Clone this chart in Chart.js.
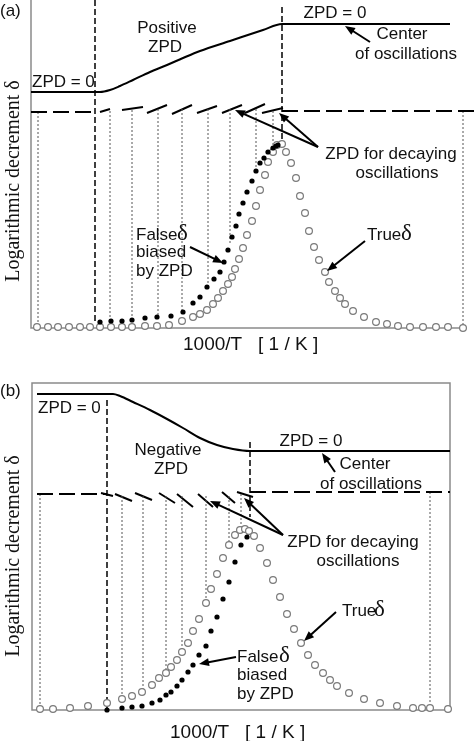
<!DOCTYPE html>
<html><head><meta charset="utf-8">
<script src="https://cdn.jsdelivr.net/npm/chart.js"></script>
<style>
html,body{margin:0;padding:0;background:#fff;}
#wrap{position:relative;width:474px;height:741px;overflow:hidden;background:#fff;}
canvas{position:absolute;left:0;}
</style></head><body>
<div id="wrap">
<canvas id="ca" width="474" height="370" style="top:0;width:474px;height:370px"></canvas>
<canvas id="cb" width="474" height="371" style="top:370px;width:474px;height:371px"></canvas>
</div>
<script>
// ===== Panel (a): positive ZPD =====  x = 1000/T (arb. units), y = logarithmic decrement (arb. units)
const trueXA = [0.6,1.7,2.7,3.8,4.9,5.9,6.9,8.0,9.1,10.1,11.4,12.6,13.8,15.1,16.2,16.9,17.6,18.2,18.7,19.2,19.7,20.1,20.4,20.8,21.2,21.6,22.1,22.5,22.9,23.4,23.7,24.2,24.6,25.1,25.5,26.0,26.5,26.9,27.4,27.8,28.3,28.8,29.4,29.8,30.4,30.9,31.4,32.2,33.3,34.5,35.6,36.7,37.9,39.2,40.5,41.7,43.2];
const trueDA  = [0.01,0.01,0.01,0.01,0.01,0.01,0.01,0.01,0.01,0.01,0.02,0.02,0.03,0.07,0.11,0.14,0.18,0.24,0.30,0.37,0.44,0.51,0.59,0.69,0.80,0.93,1.07,1.22,1.38,1.53,1.66,1.76,1.83,1.84,1.76,1.65,1.50,1.32,1.15,0.97,0.81,0.68,0.56,0.46,0.37,0.30,0.24,0.17,0.11,0.06,0.04,0.02,0.01,0.01,0.01,0.01,0.0];
const falseXA = [6.9,8.0,9.1,10.1,11.4,12.6,14.0,15.2,16.2,16.9,17.6,18.3,18.9,19.3,19.7,20.1,20.5,20.8,21.2,21.6,22.1,22.5,22.9,23.3,23.7,24.2,24.5,24.7];
const falseDA = [0.06,0.07,0.07,0.08,0.10,0.11,0.12,0.16,0.25,0.31,0.41,0.49,0.56,0.66,0.78,0.91,1.02,1.14,1.25,1.36,1.47,1.57,1.65,1.70,1.76,1.80,1.82,1.83];
const zpdXA = [0,6.9,7.9,8.9,10.2,11.9,13.6,15.2,16.9,19.9,23.2,25.1,41.9];
const zpdDA = [2.36,2.36,2.38,2.42,2.48,2.56,2.63,2.70,2.77,2.87,2.98,3.04,3.04];
const levX0A = [0,25.1], levX1A = [6.4,44.3], levDA = [2.16,2.17];
const bndXA = [6.4,25.1], bndTopA = [3.28,3.21], bndBotA = [0.05,1.88];
const measXA = [0.7,7.9,10.1,12.7,15.1,17.7,19.9,22.5,24.2,43.2];
const measTopA = [2.16,2.17,2.18,2.19,2.19,2.19,2.19,2.19,2.17,2.17];
const measBotA = [0.02,0.07,0.08,0.11,0.16,0.41,0.84,1.57,1.80,0.0];
const tickX0A = [6.9,9.1,11.6,14.1,16.6,19.1,21.4,23.1];
const tickX1A = [7.9,11.2,13.6,16.1,18.6,21.1,23.4,25.2];
const tickD0A = [2.16,2.18,2.15,2.14,2.15,2.15,2.15,2.15];
const tickD1A = [2.19,2.21,2.23,2.23,2.22,2.23,2.24,2.20];

// ===== Panel (b): negative ZPD =====
const trueXB = [0.8,2.1,3.8,5.6,7.5,9.0,10.0,11.0,12.0,12.7,13.4,13.9,14.5,15.0,15.6,16.1,16.7,17.4,17.9,18.5,19.1,19.7,20.3,20.8,21.3,21.7,22.2,22.8,23.5,24.1,24.8,25.5,26.2,26.9,27.6,28.3,29.1,29.8,30.5,31.7,33.2,34.8,36.5,38.1,39.0,39.8,41.6];
const trueDB  = [0.01,0.01,0.02,0.04,0.07,0.11,0.14,0.18,0.25,0.32,0.37,0.43,0.50,0.58,0.67,0.79,0.91,1.07,1.21,1.36,1.52,1.65,1.75,1.80,1.81,1.79,1.74,1.62,1.47,1.30,1.13,0.96,0.81,0.67,0.55,0.45,0.37,0.30,0.24,0.17,0.11,0.07,0.04,0.02,0.02,0.02,0.01];
const falseXB = [7.5,9.0,10.0,11.0,12.0,12.8,13.4,13.9,14.5,15.0,15.6,16.1,16.7,17.4,17.9,18.5,19.1,19.7,20.3,20.9,21.5];
const falseDB = [0.0,0.02,0.03,0.04,0.07,0.10,0.15,0.18,0.24,0.30,0.38,0.45,0.55,0.64,0.79,0.93,1.11,1.28,1.48,1.65,1.73];
const zpdXB = [0.5,8.1,8.8,10.1,11.8,13.5,15.1,16.8,18.5,20.1,21.8,41.8];
const zpdDB = [3.16,3.16,3.14,3.08,3.00,2.91,2.82,2.72,2.65,2.61,2.59,2.59];
const levX0B = [0.5,21.8], levX1B = [7.5,41.8], levDB = [2.16,2.18];
const bndXB = [7.5,21.8], bndTopB = [3.10,2.68], bndBotB = [0.02,1.93];
const measXB = [0.8,9.0,11.1,13.4,15.0,17.4,19.7,20.9,39.8];
const measTopB = [2.16,2.14,2.14,2.14,2.14,2.14,2.14,2.16,2.18];
const measBotB = [0.01,0.11,0.18,0.37,0.58,1.07,1.65,1.80,0.02];
const tickX0B = [6.9,8.3,10.3,12.7,14.5,16.6,19.0,20.5];
const tickX1B = [8.1,10.0,12.0,14.3,16.1,18.1,20.3,22.1];
const tickD0B = [2.17,2.16,2.17,2.17,2.16,2.16,2.18,2.18];
const tickD1B = [2.14,2.09,2.10,2.07,2.03,2.03,2.07,2.13];

// ===== helpers =====
const pts = (xs, ys) => xs.map((x, i) => ({x, y: ys[i]}));
function segs(x0, y0, x1, y1) {
  const d = [];
  for (let i = 0; i < x0.length; i++) {
    d.push({x: x0[i], y: y0[i]}, {x: x1[i], y: y1[i]}, {x: x1[i], y: null});
  }
  return d;
}
const SANS = '17px "Liberation Sans", Arial, sans-serif';
const AXF = '19px "Liberation Sans", Arial, sans-serif';
const SERIF = '20px "Liberation Serif", "Times New Roman", serif';
const DELTA = '23px "Liberation Serif", "Times New Roman", serif';

function arrow(ctx, x0, y0, x1, y1) {
  const a = Math.atan2(y1 - y0, x1 - x0), L = 10, W = 4;
  ctx.beginPath();
  ctx.moveTo(x0, y0);
  ctx.lineTo(x1 - Math.cos(a) * L * 0.7, y1 - Math.sin(a) * L * 0.7);
  ctx.lineWidth = 2; ctx.strokeStyle = '#000'; ctx.stroke();
  ctx.beginPath();
  ctx.moveTo(x1, y1);
  ctx.lineTo(x1 - L * Math.cos(a) + W * Math.sin(a), y1 - L * Math.sin(a) - W * Math.cos(a));
  ctx.lineTo(x1 - L * Math.cos(a) - W * Math.sin(a), y1 - L * Math.sin(a) + W * Math.cos(a));
  ctx.closePath(); ctx.fillStyle = '#000'; ctx.fill();
}

const annotPlugin = {
  id: 'annot',
  beforeDatasetsDraw(chart, args, o) {
    const ctx = chart.ctx, ca = chart.chartArea;
    ctx.save();
    ctx.strokeStyle = '#8a8a8a'; ctx.lineWidth = 1.5;
    ctx.beginPath();
    if (o.frame === 'box') {
      ctx.rect(ca.left, ca.top, ca.right - ca.left, ca.bottom - ca.top);
    } else {
      ctx.moveTo(ca.left, ca.top); ctx.lineTo(ca.left, ca.bottom); ctx.lineTo(ca.right, ca.bottom);
    }
    ctx.stroke();
    ctx.restore();
  },
  afterDatasetsDraw(chart, args, o) {
    const ctx = chart.ctx, xs = chart.scales.x, ys = chart.scales.y;
    ctx.save();
    (o.arrows || []).forEach(a => arrow(ctx, xs.getPixelForValue(a[0]), ys.getPixelForValue(a[1]),
                                          xs.getPixelForValue(a[2]), ys.getPixelForValue(a[3])));
    (o.texts || []).forEach(t => {
      ctx.save();
      ctx.font = t.f || SANS; ctx.fillStyle = '#111';
      ctx.textAlign = t.a || 'left'; ctx.textBaseline = 'alphabetic';
      if (t.r) { ctx.translate(t.x, t.y); ctx.rotate(t.r); ctx.fillText(t.s, 0, 0); }
      else ctx.fillText(t.s, t.x, t.y);
      ctx.restore();
    });
    ctx.restore();
  }
};

function makeChart(id, P, pad, xmax, ymax, ann) {
  const line = (data, extra) => Object.assign({data, showLine: true, pointRadius: 0, borderColor: '#000',
    borderWidth: 2, fill: false, clip: false, tension: 0}, extra);
  return new Chart(document.getElementById(id), {
    type: 'scatter',
    data: {datasets: [
      {data: pts(P.falseX, P.falseD), showLine: false, pointRadius: 2.6, pointBackgroundColor: '#000',
       pointBorderColor: '#000', pointBorderWidth: 0, clip: false},
      {data: pts(P.trueX, P.trueD), showLine: false, pointRadius: 3.4, pointBackgroundColor: '#fff',
       pointBorderColor: '#7a7a7a', pointBorderWidth: 1.2, clip: false},
      line(pts(P.zpdX, P.zpdD), {cubicInterpolationMode: 'monotone'}),
      line(segs(P.levX0, P.levD, P.levX1, P.levD), {borderDash: [16, 6]}),
      line(segs(P.bndX, P.bndTop, P.bndX, P.bndBot), {borderDash: [6, 3], borderWidth: 1.5}),
      line(segs(P.measX, P.measTop, P.measX, P.measBot), {borderDash: [2, 2], borderWidth: 1, borderColor: '#555'}),
      line(segs(P.tickX0, P.tickD0, P.tickX1, P.tickD1), {borderWidth: 2})
    ]},
    options: {
      responsive: false, animation: false, events: [],
      layout: {padding: pad, autoPadding: false},
      scales: {
        x: {type: 'linear', min: 0, max: xmax, display: false},
        y: {type: 'linear', min: 0, max: ymax, display: false}
      },
      plugins: {legend: {display: false}, tooltip: {enabled: false}, annot: ann}
    },
    plugins: [annotPlugin]
  });
}

makeChart('ca', {
  trueX: trueXA, trueD: trueDA, falseX: falseXA, falseD: falseDA, zpdX: zpdXA, zpdD: zpdDA,
  levX0: levX0A, levX1: levX1A, levD: levDA, bndX: bndXA, bndTop: bndTopA, bndBot: bndBotA,
  measX: measXA, measTop: measTopA, measBot: measBotA,
  tickX0: tickX0A, tickX1: tickX1A, tickD0: tickD0A, tickD1: tickD1A
}, {left: 31, right: 8, top: 0, bottom: 42}, 43.5, 3.28, {
  frame: 'axes',
  arrows: [[33.9, 2.86, 31.4, 3.02], [28.7, 1.81, 20.4, 2.18], [28.7, 1.81, 24.8, 2.15],
           [15.9, 0.81, 19.2, 0.65], [33.4, 0.87, 29.6, 0.57]],
  texts: [
    {s: '(a)', x: 0, y: 16},
    {s: 'ZPD = 0', x: 32, y: 87},
    {s: 'Positive', x: 167, y: 33, a: 'center'},
    {s: 'ZPD', x: 165, y: 52, a: 'center'},
    {s: 'ZPD = 0', x: 335, y: 18, a: 'center'},
    {s: 'Center', x: 402, y: 39, a: 'center'},
    {s: 'of oscillations', x: 406, y: 59, a: 'center'},
    {s: 'ZPD for decaying', x: 391, y: 159, a: 'center'},
    {s: 'oscillations', x: 397, y: 178, a: 'center'},
    {s: 'False', x: 136, y: 240}, {s: 'δ', x: 177, y: 240, f: DELTA},
    {s: 'biased', x: 136, y: 257},
    {s: 'by ZPD', x: 136, y: 276},
    {s: 'True', x: 367, y: 240}, {s: 'δ', x: 401, y: 240, f: DELTA},
    {s: '1000/T', x: 183, y: 350, f: AXF},
    {s: '[ 1 / K ]', x: 258, y: 350, f: AXF},
    {s: 'Logarithmic decrement δ', x: 19, y: 181, a: 'center', f: SERIF, r: -Math.PI / 2}
  ]
});

makeChart('cb', {
  trueX: trueXB, trueD: trueDB, falseX: falseXB, falseD: falseDB, zpdX: zpdXB, zpdD: zpdDB,
  levX0: levX0B, levX1: levX1B, levD: levDB, bndX: bndXB, bndTop: bndTopB, bndBot: bndBotB,
  measX: measXB, measTop: measTopB, measBot: measBotB,
  tickX0: tickX0B, tickX1: tickX1B, tickD0: tickD0B, tickD1: tickD1B
}, {left: 32, right: 24, top: 13, bottom: 31}, 41.8, 3.27, {
  frame: 'box',
  arrows: [[30.3, 2.38, 29.0, 2.57], [25.1, 1.75, 17.8, 2.09], [25.1, 1.75, 21.2, 2.12],
           [30.4, 0.98, 27.2, 0.69], [20.4, 0.53, 16.7, 0.46]],
  texts: [
    {s: '(b)', x: 0, y: 26},
    {s: 'ZPD = 0', x: 38, y: 43},
    {s: 'Negative', x: 168, y: 85, a: 'center'},
    {s: 'ZPD', x: 171, y: 104, a: 'center'},
    {s: 'ZPD = 0', x: 311, y: 76, a: 'center'},
    {s: 'Center', x: 365, y: 99, a: 'center'},
    {s: 'of oscillations', x: 371, y: 119, a: 'center'},
    {s: 'ZPD for decaying', x: 353, y: 177, a: 'center'},
    {s: 'oscillations', x: 358, y: 196, a: 'center'},
    {s: 'True', x: 342, y: 246}, {s: 'δ', x: 374, y: 246, f: DELTA},
    {s: 'False', x: 237, y: 292}, {s: 'δ', x: 279, y: 292, f: DELTA},
    {s: 'biased', x: 237, y: 310},
    {s: 'by ZPD', x: 237, y: 329},
    {s: '1000/T', x: 170, y: 368, f: AXF},
    {s: '[ 1 / K ]', x: 245, y: 368, f: AXF},
    {s: 'Logarithmic decrement δ', x: 19, y: 186, a: 'center', f: SERIF, r: -Math.PI / 2}
  ]
});
</script>
</body></html>
